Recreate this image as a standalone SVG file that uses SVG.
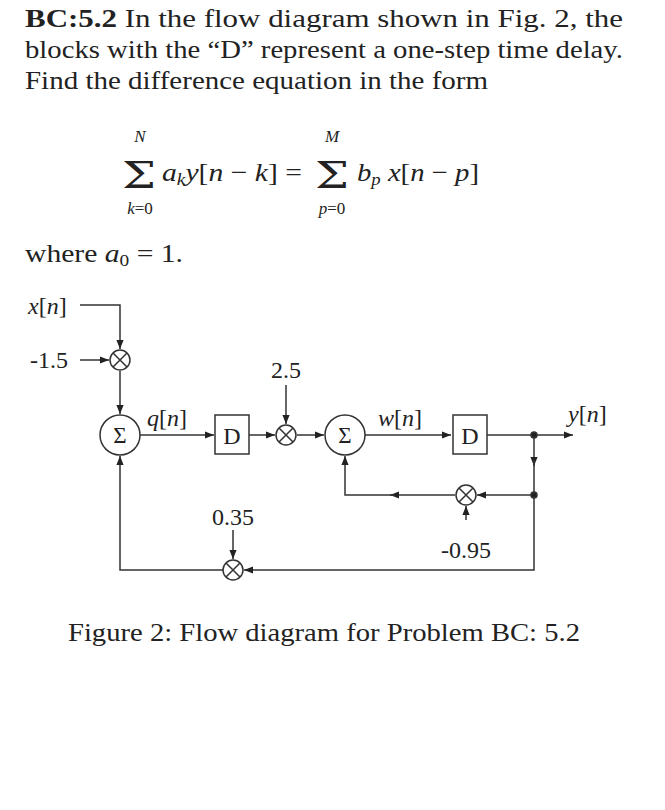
<svg xmlns="http://www.w3.org/2000/svg" width="665" height="810" viewBox="0 0 665 810">
<style>
text{font-family:"Liberation Serif","DejaVu Serif",serif;fill:#222}
.t{font-size:26px}
.l{font-size:24px}
.i{font-style:italic}
.s{font-family:"DejaVu Serif",serif;font-size:38px}
.w{fill:none;stroke:#333;stroke-width:1.5}
.n{fill:#fff;stroke:#333;stroke-width:1.5}
</style>
<defs><marker id="a" viewBox="0 0 10 10" refX="10" refY="5" markerWidth="9" markerHeight="9" markerUnits="userSpaceOnUse" orient="auto"><path d="M0,1 L10,5 L0,9 Z" fill="#222"/></marker></defs>
<rect width="665" height="810" fill="#fff"/>
<g id="text">
<text class="t" x="25" y="27" textLength="598" lengthAdjust="spacingAndGlyphs"><tspan font-weight="bold">BC:5.2</tspan> In the flow diagram shown in Fig. 2, the</text>
<text class="t" x="25" y="58" textLength="598" lengthAdjust="spacingAndGlyphs">blocks with the “D” represent a one-step time delay.</text>
<text class="t" x="25" y="89" textLength="463" lengthAdjust="spacingAndGlyphs">Find the difference equation in the form</text>
<text class="s" x="122" y="188" textLength="34" lengthAdjust="spacingAndGlyphs">Σ</text>
<text x="140" y="142" font-size="17" class="i" text-anchor="middle">N</text>
<text x="140" y="214" font-size="17" text-anchor="middle"><tspan class="i">k</tspan>=0</text>
<text class="t" x="162" y="181" textLength="140" lengthAdjust="spacingAndGlyphs"><tspan class="i">a</tspan><tspan class="i" font-size="17" dy="4">k</tspan><tspan class="i" dy="-4">y</tspan>[<tspan class="i">n</tspan> − <tspan class="i">k</tspan>] =</text>
<text class="s" x="315" y="188" textLength="34" lengthAdjust="spacingAndGlyphs">Σ</text>
<text x="332" y="142" font-size="17" class="i" text-anchor="middle">M</text>
<text x="332" y="214" font-size="17" text-anchor="middle"><tspan class="i">p</tspan>=0</text>
<text class="t" x="357" y="181" textLength="122" lengthAdjust="spacingAndGlyphs"><tspan class="i">b</tspan><tspan class="i" font-size="17" dy="4">p</tspan><tspan class="i" dy="-4"> x</tspan>[<tspan class="i">n</tspan> − <tspan class="i">p</tspan>]</text>
<text class="t" x="25" y="262" textLength="158" lengthAdjust="spacingAndGlyphs">where <tspan class="i">a</tspan><tspan font-size="17" dy="4">0</tspan><tspan dy="-4"> = 1.</tspan></text>
<text class="t" x="68" y="641" textLength="512" lengthAdjust="spacingAndGlyphs">Figure 2: Flow diagram for Problem BC: 5.2</text>
</g>
<g id="connectors" class="w">
<path d="M80,305 H120 V349" marker-end="url(#a)"/>
<path d="M80,360 H109" marker-end="url(#a)"/>
<path d="M120,371 V414" marker-end="url(#a)"/>
<path d="M140,435 H214" marker-end="url(#a)"/>
<path d="M249,435 H275" marker-end="url(#a)"/>
<path d="M286,385 V424" marker-end="url(#a)"/>
<path d="M297,435 H324" marker-end="url(#a)"/>
<path d="M365,435 H451" marker-end="url(#a)"/>
<path d="M487,435 H573" marker-end="url(#a)"/>
<path d="M534,435 V466" marker-end="url(#a)"/>
<path d="M534,460 V570 H244" marker-end="url(#a)"/>
<path d="M534,495 H477" marker-end="url(#a)"/>
<path d="M455,495 H390" marker-end="url(#a)"/>
<path d="M395,495 H345 V456" marker-end="url(#a)"/>
<path d="M466,520 V506" marker-end="url(#a)"/>
<path d="M233,530 V559" marker-end="url(#a)"/>
<path d="M223,570 H120 V456" marker-end="url(#a)"/>
<circle cx="534" cy="435" r="3" fill="#222"/>
<circle cx="534" cy="495" r="3" fill="#222"/>
</g>
<g id="m1"><circle class="n" cx="120" cy="360" r="10"/><path class="w" d="M113,353 L127,367 M127,353 L113,367"/></g>
<g id="m2"><circle class="n" cx="286" cy="435" r="10"/><path class="w" d="M279,428 L293,442 M293,428 L279,442"/></g>
<g id="m3"><circle class="n" cx="233" cy="570" r="10"/><path class="w" d="M226,563 L240,577 M240,563 L226,577"/></g>
<g id="m4"><circle class="n" cx="466" cy="495" r="10"/><path class="w" d="M459,488 L473,502 M473,488 L459,502"/></g>
<g id="s1"><circle class="n" cx="120" cy="435" r="20"/><text x="120" y="443" font-size="23" text-anchor="middle">Σ</text></g>
<g id="s2"><circle class="n" cx="345" cy="435" r="20"/><text x="345" y="443" font-size="23" text-anchor="middle">Σ</text></g>
<g id="d1"><rect class="n" x="215" y="415" width="34" height="39"/><text x="232" y="444" class="l" text-anchor="middle">D</text></g>
<g id="d2"><rect class="n" x="453" y="415" width="34" height="39"/><text x="470" y="444" class="l" text-anchor="middle">D</text></g>
<g id="labels">
<text class="l" x="28" y="314"><tspan class="i">x</tspan>[<tspan class="i">n</tspan>]</text>
<text class="l" x="30" y="368">-1.5</text>
<text class="l" x="147" y="426"><tspan class="i">q</tspan>[<tspan class="i">n</tspan>]</text>
<text class="l" x="286" y="378" text-anchor="middle">2.5</text>
<text class="l" x="378" y="426"><tspan class="i">w</tspan>[<tspan class="i">n</tspan>]</text>
<text class="l" x="568" y="422"><tspan class="i">y</tspan>[<tspan class="i">n</tspan>]</text>
<text class="l" x="233" y="525" text-anchor="middle">0.35</text>
<text class="l" x="466" y="558" text-anchor="middle">-0.95</text>
</g>
</svg>
